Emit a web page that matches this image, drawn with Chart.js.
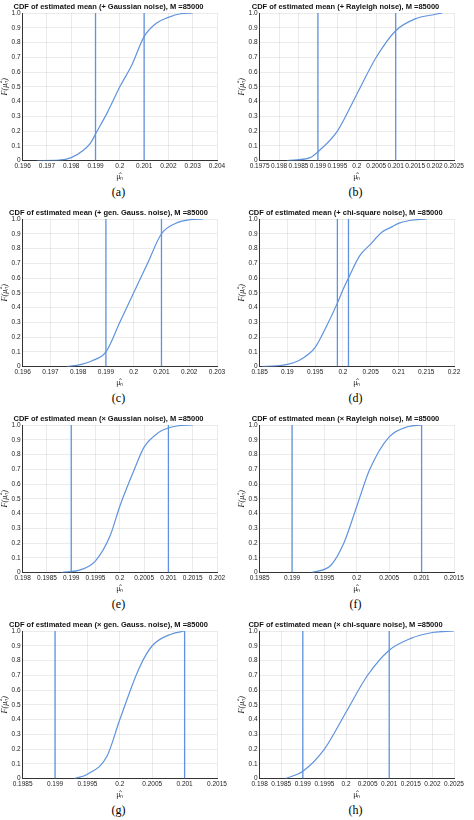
<!DOCTYPE html>
<html>
<head>
<meta charset="utf-8">
<script src="https://cdn.jsdelivr.net/npm/chart.js@4"></script>
<style>
  body { margin: 0; background: #fff; }
  #wrap { position: relative; width: 474px; height: 820px; }
  .panel { position: absolute; width: 237px; height: 205px; }
  .panel canvas { position: absolute; left: 0; top: 0; }
  .cap { position: absolute; width: 237px; top: 185px; text-align: center;
         font: 12px "Liberation Serif", serif; color: #000; }
</style>
</head>
<body>
<div id="wrap"></div>
<script>
// ===== ข้อมูลของแต่ละกราฟ =====
const titles = [
  'CDF of estimated mean (+ Gaussian noise), M =85000',
  'CDF of estimated mean (+ Rayleigh noise), M =85000',
  'CDF of estimated mean (+ gen. Gauss. noise), M =85000',
  'CDF of estimated mean (+ chi-square noise), M =85000',
  'CDF of estimated mean (× Gaussian noise), M =85000',
  'CDF of estimated mean (× Rayleigh noise), M =85000',
  'CDF of estimated mean (× gen. Gauss. noise), M =85000',
  'CDF of estimated mean (× chi-square noise), M =85000'
];
const captions = ['(a)', '(b)', '(c)', '(d)', '(e)', '(f)', '(g)', '(h)'];
const xMin = [0.196, 0.1975, 0.196, 0.185, 0.198, 0.1985, 0.1985, 0.198];
const xMax = [0.204, 0.2025, 0.203, 0.22, 0.202, 0.2015, 0.2015, 0.2025];
const xStep = [0.001, 0.0005, 0.001, 0.005, 0.0005, 0.0005, 0.0005, 0.0005];
const bounds = [0.199, 0.201];
const cdfX = [
  [0.1966, 0.1975, 0.198, 0.1985, 0.1988, 0.199, 0.1995, 0.2, 0.2005, 0.201, 0.2015, 0.202, 0.2025, 0.203],
  [0.1982, 0.1988, 0.199, 0.1995, 0.2, 0.2005, 0.201, 0.2015, 0.202, 0.2022],
  [0.1976, 0.198, 0.1985, 0.199, 0.1995, 0.2, 0.2005, 0.201, 0.2015, 0.202, 0.2025],
  [0.1855, 0.188, 0.19, 0.192, 0.194, 0.195, 0.197, 0.199, 0.2, 0.201, 0.203, 0.205, 0.207, 0.209, 0.21, 0.212, 0.215],
  [0.1988, 0.1992, 0.1995, 0.1998, 0.2, 0.2003, 0.2005, 0.2008, 0.201, 0.2012, 0.2015],
  [0.1993, 0.1996, 0.1998, 0.2, 0.2002, 0.2005, 0.2008, 0.201],
  [0.1993, 0.1995, 0.1998, 0.2, 0.2003, 0.2005, 0.2008, 0.201],
  [0.1986, 0.199, 0.1995, 0.2, 0.2005, 0.201, 0.2015, 0.202, 0.2025]
];
const cdfY = [
  [0, 0.003, 0.02, 0.07, 0.12, 0.18, 0.33, 0.5, 0.65, 0.84, 0.93, 0.97, 0.995, 1],
  [0, 0.02, 0.06, 0.2, 0.45, 0.7, 0.88, 0.96, 0.99, 1],
  [0, 0.01, 0.04, 0.1, 0.3, 0.5, 0.7, 0.9, 0.97, 0.995, 1],
  [0, 0.005, 0.015, 0.04, 0.09, 0.13, 0.27, 0.43, 0.52, 0.6, 0.75, 0.83, 0.91, 0.95, 0.97, 0.99, 1],
  [0, 0.02, 0.08, 0.25, 0.45, 0.7, 0.85, 0.95, 0.98, 0.995, 1],
  [0, 0.05, 0.2, 0.45, 0.7, 0.92, 0.99, 1],
  [0, 0.03, 0.15, 0.4, 0.75, 0.9, 0.98, 1],
  [0, 0.05, 0.2, 0.45, 0.7, 0.87, 0.95, 0.99, 1]
];
const yTicks = [0, 0.1, 0.2, 0.3, 0.4, 0.5, 0.6, 0.7, 0.8, 0.9, 1];
const rowTop = [0, 206, 412, 618];

const blue = '#5f93dd';
const wrap = document.getElementById('wrap');

titles.forEach((title, i) => {
  const panel = document.createElement('div');
  panel.className = 'panel';
  panel.style.left = (i % 2) * 237 + 'px';
  panel.style.top = rowTop[Math.floor(i / 2)] + 'px';
  panel.innerHTML = `<canvas width="237" height="182"></canvas><div class="cap">${captions[i]}</div>`;
  wrap.appendChild(panel);
  const ctx = panel.querySelector('canvas').getContext('2d');

  // เส้นแนวตั้งสองเส้นที่ขอบเขต
  const vlines = bounds.map(b => ({
    data: [{ x: b, y: 0 }, { x: b, y: 1 }],
    borderColor: blue, borderWidth: 1.3, pointRadius: 0
  }));

  new Chart(ctx, {
    type: 'line',
    data: {
      datasets: [{
        data: cdfX[i].map((x, k) => ({ x, y: cdfY[i][k] })),
        borderColor: blue, borderWidth: 1.2, pointRadius: 0,
        cubicInterpolationMode: 'monotone'
      }, ...vlines]
    },
    options: {
      responsive: false,
      animation: false,
      layout: { padding: { right: 20, left: 0, top: 0 } },
      plugins: {
        legend: { display: false },
        tooltip: { enabled: false },
        title: {
          display: true, text: title, color: '#111',
          font: { size: 7.5, weight: 'bold', family: 'Liberation Sans' },
          padding: { top: 2, bottom: 2 }
        }
      },
      scales: {
        x: {
          type: 'linear', min: xMin[i], max: xMax[i],
          afterBuildTicks: ax => {
            const t = [];
            for (let v = xMin[i]; v <= xMax[i] + 1e-9; v += xStep[i]) t.push({ value: +v.toFixed(5) });
            ax.ticks = t;
          },
          ticks: { color: '#222', font: { size: 6.5, family: 'Liberation Sans' },
                   maxRotation: 0, autoSkip: false, padding: 2,
                   callback: v => String(+v.toFixed(5)) },
          grid: { color: 'rgba(0,0,0,0.08)', tickLength: 0 },
          border: { color: '#333' },
          title: { display: true, text: 'μ̂ₙ', color: '#222', padding: 0,
                   font: { size: 8, family: 'Liberation Serif' } }
        },
        y: {
          min: 0, max: 1,
          afterBuildTicks: ax => { ax.ticks = yTicks.map(v => ({ value: v })); },
          ticks: { color: '#222', font: { size: 6.5, family: 'Liberation Sans' }, padding: 2 },
          grid: { color: 'rgba(0,0,0,0.08)', tickLength: 0 },
          border: { color: '#333' },
          title: { display: true, text: 'F(μ̂ₙ)', color: '#222', padding: 0,
                   font: { size: 8, style: 'italic', family: 'Liberation Serif' } }
        }
      }
    }
  });
});
</script>
</body>
</html>
